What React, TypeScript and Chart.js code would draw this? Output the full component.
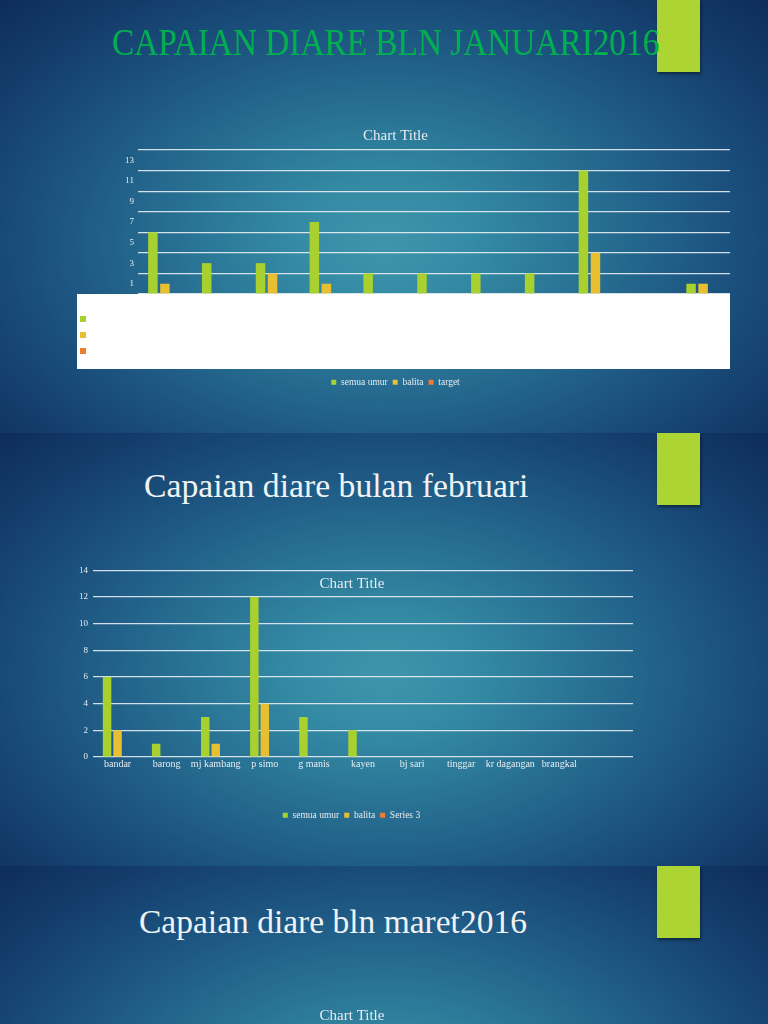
import React, { useEffect, useRef } from 'react';
import { Chart, registerables } from 'chart.js';

Chart.register(...registerables);

const FONT = "'Liberation Serif', 'Times New Roman', serif";

// ---- data ----
const categories = ['bandar', 'barong', 'mj kambang', 'p simo', 'g manis', 'kayen', 'bj sari', 'tinggar', 'kr dagangan', 'brangkal', ''];

const janSemuaUmur = [6, 3, 3, 7, 2, 2, 2, 2, 12, 0, 1];
const janBalita = [1, 0, 2, 1, 0, 0, 0, 0, 4, 0, 1];
const janTarget: (number | null)[] = [null, null, null, null, null, null, null, null, null, null, null];
const janYTickLabels = [1, 3, 5, 7, 9, 11, 13];
const janGridValues = [0, 2, 4, 6, 8, 10, 12, 14];

const febSemuaUmur = [6, 1, 3, 12, 3, 2, 0, 0, 0, 0, 0];
const febBalita = [2, 0, 1, 4, 0, 0, 0, 0, 0, 0, 0];
const febSeries3: (number | null)[] = [null, null, null, null, null, null, null, null, null, null, null];

const seriesNamesJan = ['semua umur', 'balita', 'target'];
const seriesNamesFeb = ['semua umur', 'balita', 'Series 3'];

const GREEN = '#a8d130';
const YELLOW = '#e8bf31';
const ORANGE = '#ed7d31';
const GRID = 'rgba(236,241,245,0.88)';
const TEXT = '#e6ecf1';

const SLIDE_BG =
  'radial-gradient(ellipse 72% 82% at 50% 56%, #3e95ab 0%, #348ba4 16%, #2a7596 34%, #1e5984 56%, #143d6c 80%, #0c2a59 100%)';

const whiteTablePlugin = {
  id: 'whiteTable',
  afterDatasetsDraw(chart: any) {
    const { ctx, chartArea } = chart;
    const top = chartArea.bottom;
    ctx.save();
    ctx.fillStyle = '#ffffff';
    ctx.fillRect(16, top, chartArea.right - 16, 75);
    chart.data.datasets.forEach((ds: any, i: number) => {
      ctx.fillStyle = ds.backgroundColor;
      ctx.fillRect(19, top + 22 + i * 16, 6, 6);
    });
    ctx.restore();
  },
};

const innerTitlePlugin = {
  id: 'innerTitle',
  afterDatasetsDraw(chart: any) {
    const { ctx } = chart;
    const y = chart.scales.y.getPixelForValue(13);
    ctx.save();
    ctx.font = `15px ${FONT}`;
    ctx.fillStyle = TEXT;
    ctx.textAlign = 'center';
    ctx.textBaseline = 'middle';
    ctx.fillText('Chart Title', chart.width / 2, y);
    ctx.restore();
  },
};

function useChart(ref: React.RefObject<HTMLCanvasElement>, make: () => any) {
  useEffect(() => {
    if (!ref.current) return;
    const chart = new Chart(ref.current, make());
    return () => chart.destroy();
  }, []);
}

function JanChart() {
  const ref = useRef<HTMLCanvasElement>(null);
  useChart(ref, () => ({
    type: 'bar',
    data: {
      labels: categories,
      datasets: [
        { label: seriesNamesJan[0], data: janSemuaUmur, backgroundColor: GREEN },
        { label: seriesNamesJan[1], data: janBalita, backgroundColor: YELLOW },
        { label: seriesNamesJan[2], data: janTarget, backgroundColor: ORANGE },
      ],
    },
    options: {
      responsive: false,
      animation: false,
      datasets: { bar: { categoryPercentage: 0.67, barPercentage: 0.79 } },
      layout: { padding: { left: 0, right: 10, top: 0, bottom: 0 } },
      plugins: {
        title: {
          display: true,
          text: 'Chart Title',
          color: TEXT,
          font: { family: FONT, size: 15, weight: 'normal' },
          padding: { top: 7, bottom: 5 },
        },
        legend: {
          position: 'bottom',
          labels: { boxWidth: 5, boxHeight: 5, padding: 5, color: TEXT, font: { family: FONT, size: 9.5 } },
        },
        tooltip: { enabled: false },
      },
      scales: {
        x: {
          grid: { display: false, drawTicks: false },
          border: { display: false },
          ticks: { color: TEXT, font: { family: FONT, size: 10 } },
          afterFit: (s: any) => { s.height = 78.5; },
        },
        y: {
          min: 0,
          max: 14,
          border: { display: false },
          grid: {
            drawTicks: false,
            lineWidth: 1.25,
            color: (c: any) => (janGridValues.includes(c.tick?.value) ? GRID : 'rgba(0,0,0,0)'),
          },
          ticks: {
            stepSize: 1,
            autoSkip: false,
            padding: 4,
            color: TEXT,
            font: { family: FONT, size: 9 },
            callback: (v: any) => (janYTickLabels.includes(Number(v)) ? String(v) : ''),
          },
          afterFit: (s: any) => { s.width = 77; },
        },
      },
    },
    plugins: [whiteTablePlugin],
  }));
  return <canvas ref={ref} width={679} height={277} style={{ position: 'absolute', left: 61, top: 120, width: 679, height: 277 }} />;
}

function FebChart() {
  const ref = useRef<HTMLCanvasElement>(null);
  useChart(ref, () => ({
    type: 'bar',
    data: {
      labels: categories,
      datasets: [
        { label: seriesNamesFeb[0], data: febSemuaUmur, backgroundColor: GREEN },
        { label: seriesNamesFeb[1], data: febBalita, backgroundColor: YELLOW },
        { label: seriesNamesFeb[2], data: febSeries3, backgroundColor: ORANGE },
      ],
    },
    options: {
      responsive: false,
      animation: false,
      datasets: { bar: { categoryPercentage: 0.64, barPercentage: 0.81 } },
      layout: { padding: { left: 0, right: 1, top: 6, bottom: 0 } },
      plugins: {
        title: { display: false },
        legend: {
          position: 'bottom',
          labels: { boxWidth: 5, boxHeight: 5, padding: 5, color: TEXT, font: { family: FONT, size: 9.5 } },
        },
        tooltip: { enabled: false },
      },
      scales: {
        x: {
          grid: { display: false, drawTicks: false },
          border: { display: false },
          ticks: { color: TEXT, padding: 1, font: { family: FONT, size: 10 }, autoSkip: false, maxRotation: 0 },
          afterFit: (s: any) => { s.height = 48.5; },
        },
        y: {
          min: 0,
          max: 14,
          border: { display: false },
          grid: { drawTicks: false, lineWidth: 1.25, color: GRID },
          ticks: { stepSize: 2, padding: 5, color: TEXT, font: { family: FONT, size: 9 } },
          afterFit: (s: any) => { s.width = 23; },
        },
      },
    },
    plugins: [innerTitlePlugin],
  }));
  return <canvas ref={ref} width={564} height={270} style={{ position: 'absolute', left: 70, top: 127, width: 564, height: 270 }} />;
}

function MarChart() {
  const ref = useRef<HTMLCanvasElement>(null);
  useChart(ref, () => ({
    type: 'bar',
    data: { labels: categories, datasets: [] },
    options: {
      responsive: false,
      animation: false,
      plugins: {
        title: {
          display: true,
          text: 'Chart Title',
          color: TEXT,
          font: { family: FONT, size: 15, weight: 'normal' },
          padding: { top: 9, bottom: 5 },
        },
        legend: { display: false },
        tooltip: { enabled: false },
      },
      scales: { x: { display: false }, y: { display: false } },
    },
  }));
  return <canvas ref={ref} width={564} height={200} style={{ position: 'absolute', left: 70, top: 132, width: 564, height: 200 }} />;
}

const slideStyle = (top: number, height: number): React.CSSProperties => ({
  position: 'absolute',
  left: 0,
  top,
  width: 768,
  height,
  overflow: 'hidden',
  background: SLIDE_BG,
  backgroundSize: '768px 433px',
  backgroundRepeat: 'no-repeat',
});

const greenBar: React.CSSProperties = {
  position: 'absolute',
  left: 657,
  top: 0,
  width: 43,
  height: 72,
  background: '#acd433',
  boxShadow: '1px 2px 3px rgba(0,0,0,0.45)',
};

export default function App() {
  return (
    <div style={{ position: 'absolute', left: 0, top: 0, width: 768, height: 1024, overflow: 'hidden', background: '#0d2c5b', fontFamily: FONT }}>
      {/* slide 1 */}
      <div style={slideStyle(0, 433)}>
        <div style={greenBar} />
        <div
          style={{
            position: 'absolute',
            left: 112,
            top: 23.5,
            fontSize: 37,
            lineHeight: '37px',
            color: '#00b050',
            whiteSpace: 'nowrap',
            transform: 'scaleX(0.9)',
            transformOrigin: 'left top',
          }}
        >
          CAPAIAN DIARE BLN JANUARI2016
        </div>
        <JanChart />
      </div>
      {/* slide 2 */}
      <div style={slideStyle(433, 433)}>
        <div style={greenBar} />
        <div style={{ position: 'absolute', left: 144, top: 36, fontSize: 33.7, lineHeight: '33.7px', color: '#f0f2f4', whiteSpace: 'nowrap' }}>
          Capaian diare bulan februari
        </div>
        <FebChart />
      </div>
      {/* slide 3 */}
      <div style={slideStyle(866, 158)}>
        <div style={greenBar} />
        <div style={{ position: 'absolute', left: 139, top: 39, fontSize: 33.5, lineHeight: '33.5px', color: '#f0f2f4', whiteSpace: 'nowrap' }}>
          Capaian diare bln maret2016
        </div>
        <MarChart />
      </div>
    </div>
  );
}
